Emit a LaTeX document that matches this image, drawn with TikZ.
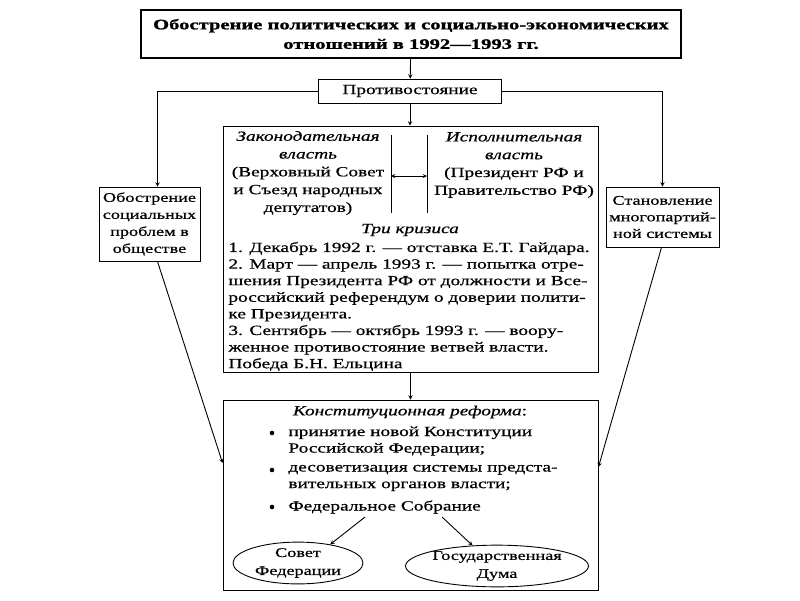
\documentclass[tikz,border=0pt]{standalone}
\usepackage{fontspec}
\setmainfont{Liberation Serif}[FakeStretch=1.38,FakeBold=0.6]
\newfontfamily\headfont{Liberation Serif}[FakeStretch=1.42,FakeBold=1.2]
\usetikzlibrary{shapes.geometric}
\begin{document}
\begin{tikzpicture}[x=1pt,y=-1pt,>=stealth,line width=0.9pt,
	box/.style={draw,rectangle,inner sep=0pt,align=center},
	txt/.style={inner sep=0pt,font=\fontsize{14}{16.6}\selectfont},
	oval/.style={draw,ellipse,inner sep=0pt,align=center,font=\fontsize{13.2}{18}\selectfont}]
	\useasboundingbox (0,0) rectangle (800,600);
	\fill[white] (0,0) rectangle (800,600);
	
	\node[box,minimum width=540,minimum height=48,line width=1.3pt,
	font=\headfont\bfseries\fontsize{14.5}{19.5}\selectfont] (head) at (411,34)
	{Обострение политических и социально-экономических\\отношений в 1992—1993 гг.};
	\node[box,txt,draw,minimum width=183,minimum height=24] (conf) at (410,91) {Противостояние};
	\node[box,txt,draw,minimum width=101,minimum height=74,font=\fontsize{13.2}{17}\selectfont] (soc) at (149.5,224)
	{Обострение\\социальных\\проблем в\\обществе};
	\node[box,txt,draw,minimum width=113,minimum height=60,font=\fontsize{13.2}{16.6}\selectfont] (party) at (662.5,217)
	{Становление\\многопартий-\\ной системы};
	
	\node[box,minimum width=375,minimum height=246] (crisis) at (410.5,249) {};
	\node[box,minimum width=375,minimum height=190] (reform) at (410.5,495) {};
	
	% ветви власти
	\node[txt,align=center,font=\fontsize{14}{17.8}\selectfont] (legis) at (308,173)
	{\textit{Законодательная}\\\textit{власть}\\(Верховный Совет\\и Съезд народных\\депутатов)};
	\node[txt,align=center,font=\fontsize{14}{17.8}\selectfont] (exec) at (514,165)
	{\textit{Исполнительная}\\\textit{власть}\\(Президент РФ и\\Правительство РФ)};
	\coordinate (barL) at (391,176);
	\coordinate (barR) at (427,176);
	\draw (barL)++(0,-41)--++(0,78) (barR)++(0,-41)--++(0,78);
	\draw[<->] (barL)--(barR);
	
	\node[txt,font=\fontsize{14}{16.6}\selectfont\itshape] (three) at (410,230) {Три кризиса};
	\node[txt,anchor=north west,align=left] (list) at (228,241.5)
	{1. Декабрь 1992 г. — отставка Е.Т. Гайдара.\\
		2. Март — апрель 1993 г. — попытка отре-\\
		шения Президента РФ от должности и Все-\\
		российский референдум о доверии полити-\\
		ке Президента.\\
		3. Сентябрь — октябрь 1993 г. — воору-\\
		женное противостояние ветвей власти.\\
		Победа Б.Н. Ельцина};
	
	% реформа
	\node[txt] (reftitle) at (410,412) {\textit{Конституционная реформа}:};
	\node[txt,anchor=west,align=left] (item1) at (288,441) {принятие новой Конституции\\Российской Федерации;};
	\node[txt,anchor=west,align=left] (item2) at (288,478) {десоветизация системы предста-\\вительных органов власти;};
	\node[txt,anchor=west,align=left] (item3) at (288,507) {Федеральное Собрание};
	\foreach \y in {433,470,507}{
		\fill (272,\y) circle (2.3);
	}
	\node[oval,minimum width=130,minimum height=40] (sovfed) at (298,563) {Совет\\Федерации};
	\node[oval,minimum width=179,minimum height=38] (duma) at (497,566) {Государственная\\Дума};
	\coordinate (fsL) at (365,517);
	\coordinate (fsR) at (442,517);
	
	\draw[->] (head)--(conf);
	\draw[->] (conf.west) -| ([xshift=8pt]soc.north);
	\draw[->] (conf.east) -| (party.north);
	\draw[->] (conf.south)--(conf.south |- crisis.north);
	\draw[->] (crisis.south)--(reform.north);
	\draw[->] ([xshift=8pt]soc.south)--([yshift=32pt]reform.west);
	\draw[->] ([xshift=-1pt]party.south)--([yshift=28pt]reform.east);
	\draw[->] (fsL)--(sovfed.30);
	\draw[->] (fsR)--(duma.140);
\end{tikzpicture}
\end{document}
